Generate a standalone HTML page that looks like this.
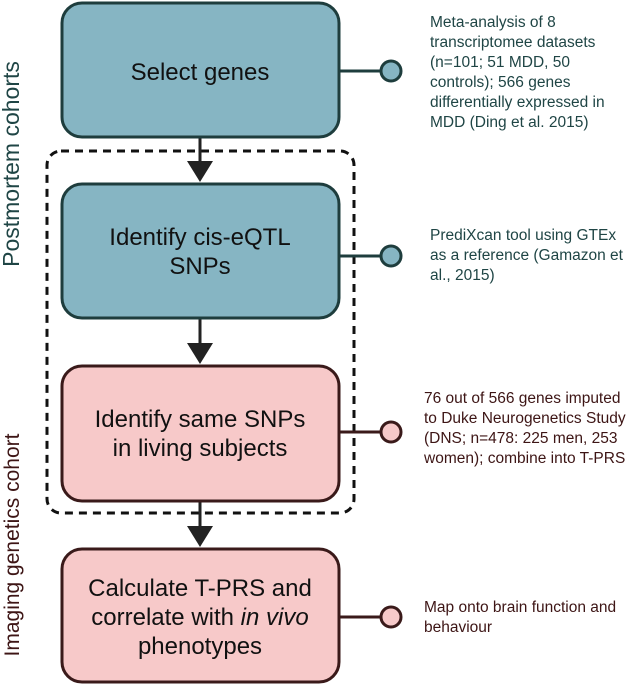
<!DOCTYPE html>
<html><head><meta charset="utf-8"><style>
body{margin:0;background:#fff;}
svg text{font-family:"Liberation Sans",sans-serif;}
</style></head><body>
<svg width="642" height="685" viewBox="0 0 642 685" xmlns="http://www.w3.org/2000/svg">
<rect x="47" y="151" width="307" height="362" rx="14" fill="none" stroke="#111" stroke-width="3" stroke-dasharray="8,6"/>
<g stroke="#222" stroke-width="3">
<line x1="200" y1="137" x2="200" y2="165"/>
<line x1="200" y1="318" x2="200" y2="348"/>
<line x1="200" y1="501" x2="200" y2="530"/>
</g>
<g fill="#222">
<polygon points="187,161 213,161 200,182"/>
<polygon points="187,343 213,343 200,364"/>
<polygon points="187,526 213,526 200,547"/>
</g>
<rect x="62" y="3" width="277" height="134" rx="20" fill="#86b5c3" stroke="#1e3d3d" stroke-width="3"/>
<rect x="62" y="184" width="277" height="134" rx="20" fill="#86b5c3" stroke="#1e3d3d" stroke-width="3"/>
<rect x="62" y="366" width="277" height="135" rx="20" fill="#f7c9c9" stroke="#3a1a1a" stroke-width="3"/>
<rect x="62" y="549" width="277" height="133" rx="20" fill="#f7c9c9" stroke="#3a1a1a" stroke-width="3"/>
<g stroke-width="3">
<line x1="339" y1="71" x2="380" y2="71" stroke="#1e3d3d"/>
<line x1="339" y1="256" x2="380" y2="256" stroke="#1e3d3d"/>
<line x1="339" y1="432" x2="380" y2="432" stroke="#3a1a1a"/>
<line x1="339" y1="617" x2="380" y2="617" stroke="#3a1a1a"/>
<ellipse cx="391" cy="71" rx="10" ry="10" fill="#86b5c3" stroke="#1e3d3d"/>
<ellipse cx="391" cy="256" rx="10" ry="10" fill="#86b5c3" stroke="#1e3d3d"/>
<ellipse cx="391" cy="432" rx="10" ry="10" fill="#f7c9c9" stroke="#3a1a1a"/>
<ellipse cx="391" cy="617" rx="10" ry="10" fill="#f7c9c9" stroke="#3a1a1a"/>
</g>
<g font-size="24" fill="#111" text-anchor="middle">
<text x="200" y="80">Select genes</text>
<text x="200" y="245">Identify cis-eQTL</text>
<text x="200" y="274">SNPs</text>
<text x="200" y="427">Identify same SNPs</text>
<text x="200" y="456">in living subjects</text>
<text x="200" y="596">Calculate T-PRS and</text>
<text x="200" y="625">correlate with <tspan font-style="italic">in vivo</tspan></text>
<text x="200" y="654">phenotypes</text>
</g>
<g font-size="15.5" fill="#1f4545">
<text x="430" y="27">Meta-analysis of 8</text>
<text x="430" y="47">transcriptomee datasets</text>
<text x="430" y="67">(n=101; 51 MDD, 50</text>
<text x="430" y="87">controls); 566 genes</text>
<text x="430" y="107">differentially expressed in</text>
<text x="430" y="127">MDD (Ding et al. 2015)</text>
<text x="430" y="240">PrediXcan tool using GTEx</text>
<text x="430" y="260">as a reference (Gamazon et</text>
<text x="430" y="280">al., 2015)</text>
</g>
<g font-size="15.5" fill="#3d1515">
<text x="424" y="403">76 out of 566 genes imputed</text>
<text x="424" y="423">to Duke Neurogenetics Study</text>
<text x="424" y="443">(DNS; n=478: 225 men, 253</text>
<text x="424" y="463">women); combine into T-PRS</text>
<text x="424" y="612">Map onto brain function and</text>
<text x="424" y="632">behaviour</text>
</g>
<text transform="translate(19,164) rotate(-90)" font-size="23" fill="#1f4545" text-anchor="middle">Postmortem cohorts</text>
<text transform="translate(19,545) rotate(-90)" font-size="21" fill="#3d1515" text-anchor="middle">Imaging genetics cohort</text>
</svg>
</body></html>
